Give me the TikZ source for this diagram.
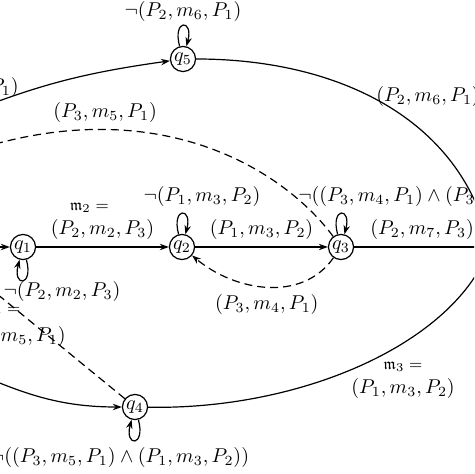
\documentclass[tikz,border=0pt]{standalone}
\usepackage{amssymb}
\usetikzlibrary{arrows.meta}
\tikzset{
	state/.style={
		circle,
		draw,
		inner sep=0.6pt,
		minimum size=11pt
	},
	msg/.style={dash pattern=on 4pt off 2.5pt},
	every loop/.style={min distance=5mm}
}

\begin{document}
\begin{tikzpicture}[
	x=0.5pt,
	y=-0.5pt,
	line width=0.6pt,
	>={Stealth[length=4.5pt,width=3.2pt]}
]
\useasboundingbox (0,0) rectangle (474,474);
\clip (0,0) rectangle (474,474);

% states
\node[state] (q1) at (23,247) {$q_1$};
\node[state] (q2) at (182,247) {$q_2$};
\node[state] (q3) at (341,247) {$q_3$};
\node[state] (q5) at (183,59) {$q_5$};
\node[state] (q4) at (135,407) {$q_4$};

% ends outside the frame
\coordinate (q0) at (-40,247);
\coordinate (q6) at (490,247);
\coordinate (w5) at (-40,116);
\coordinate (w4) at (-40,366);
\coordinate (w3) at (-40,155);
\coordinate (w4b) at (-20,280);

% main row
\draw[->] (q0) -- (q1);
\draw[->] (q1) -- node[above, align=center]
	{{\footnotesize $\mathfrak{m}_2 =$}\hspace*{13pt}\\ $(P_2,m_2,P_3)$} (q2);
\draw[->] (q2) -- node[above] {$(P_1,m_3,P_2)$} (q3);
\draw[->] (q3) -- node[above] {$(P_2,m_7,P_3)$} (q6);
\draw[->, msg] (q3) to[out=235, in=-40]
	node[below] {$(P_3,m_4,P_1)$} (q2);
\draw[->, msg] (q3) .. controls (280,165) and (150,90) .. (w3)
	node[pos=0.72, above] {$(P_3,m_5,P_1)$};

% loops
\draw[->] (q1) edge[loop below] node[below, xshift=19.5pt, yshift=3pt]
	{$\neg(P_2,m_2,P_3)$} (q1);
\draw[->] (q2) edge[loop above] node[above, xshift=10pt]
	{$\neg(P_1,m_3,P_2)$} (q2);
\draw[->] (q3) edge[loop above] node[anchor=south west, xshift=-25pt]
	{$\neg((P_3,m_4,P_1)\wedge(P_3,m_5,P_1)\wedge(P_2,m_7,P_3))$} (q3);
\draw[->] (q5) edge[loop above] node[above, yshift=-1.5pt]
	{$\neg(P_2,m_6,P_1)$} (q5);
\draw[->] (q4) edge[loop below] node[below, xshift=-7.5pt]
	{$\neg((P_3,m_5,P_1)\wedge(P_1,m_3,P_2))$} (q4);

% outer arcs
\draw[->] (w5) to[out=22, in=188] (q5);
\node[anchor=east] (l5) at (26,88) {$(P_2,m_1,P_1)$};
\draw[->] (q5) .. controls (340,59) and (460,120) .. (q6);
\node[anchor=west] (l6) at (369,97) {$(P_2,m_6,P_1)$};
\draw[->] (w4) to[out=-24, in=180] (q4);
\draw[->] (q4) .. controls (300,410) and (450,345) .. (q6);
\node[align=center] (l3) at (403,380)
	{{\footnotesize $\mathfrak{m}_3 =$}\\ $(P_1,m_3,P_2)$};
\draw[->, msg] (q4) -- (w4b);
\node[align=center] (l4) at (14,326)
	{{\footnotesize $\mathfrak{m}_5 =$}\hspace*{13pt}\\[2pt] $(P_3,m_5,P_1)$};
\end{tikzpicture}
\end{document}
